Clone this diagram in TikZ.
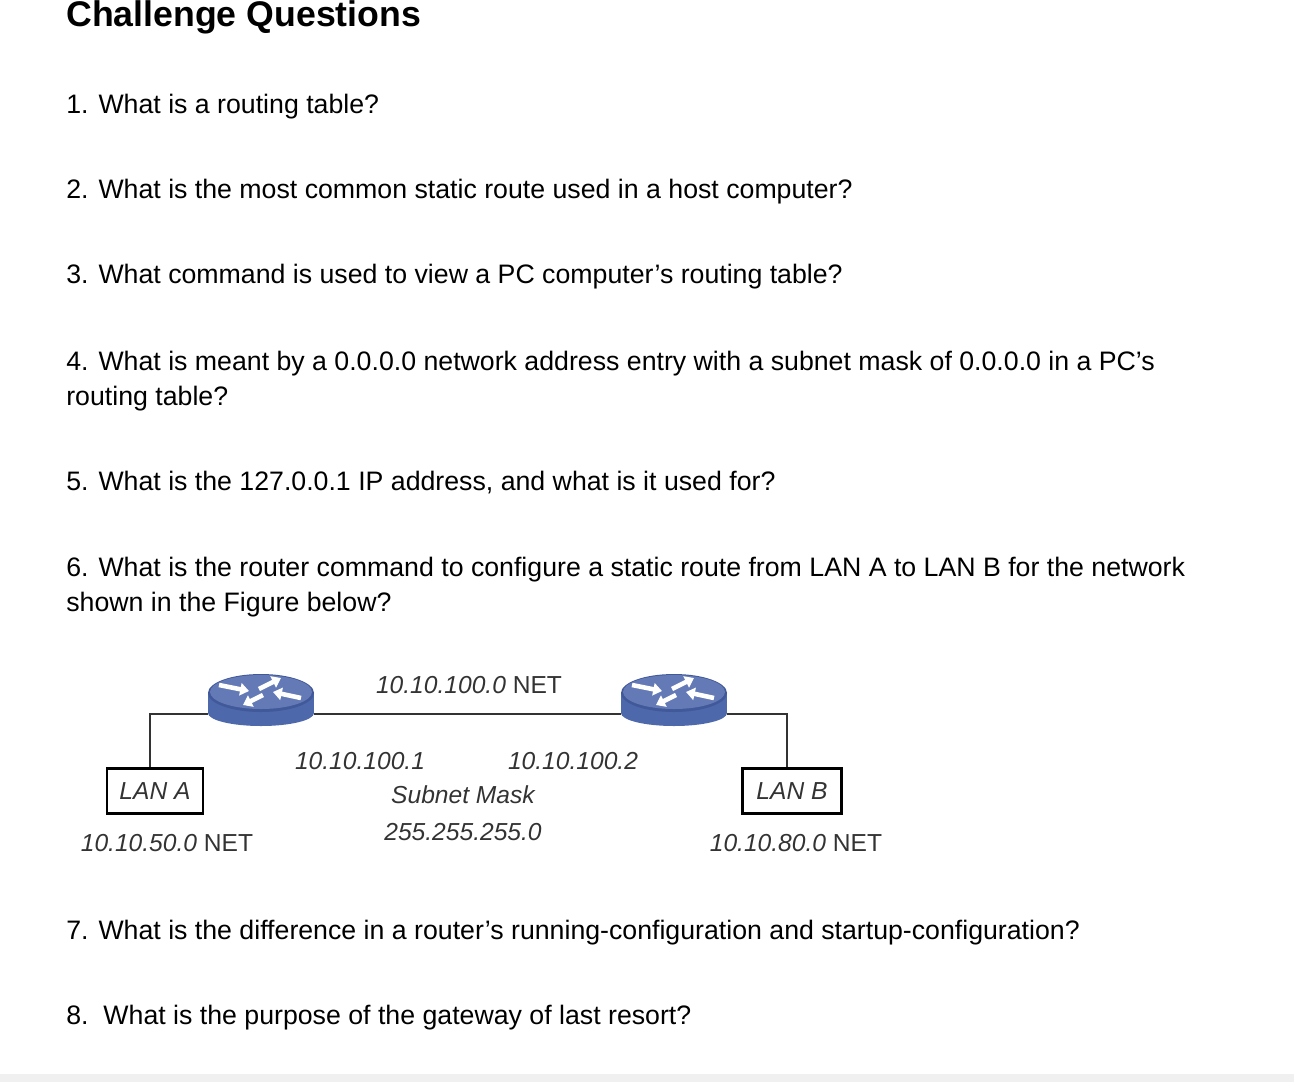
\documentclass[tikz,border=0pt]{standalone}
\usepackage{fontspec}
\setmainfont{Liberation Sans}
\usetikzlibrary{arrows.meta}
\definecolor{rblue}{RGB}{78,104,172}
\definecolor{rdark}{RGB}{60,82,145}
\tikzset{
  q/.style={anchor=west,font=\fontsize{15.2}{18}\selectfont,inner sep=0pt,align=left},
  lbl/.style={font=\fontsize{14}{17}\selectfont,text=black!80,inner sep=0pt},
  lanbox/.style={draw,line width=1.2pt,minimum width=1.92cm,minimum height=0.9cm,font=\fontsize{14}{17}\selectfont\itshape,text=black!80},
  wire/.style={line width=1.5pt,black!80},
  rarr/.style={white,line width=2.6pt,-{Triangle[length=5pt,width=7pt]}}
}
\newcommand{\router}[2]{%
  \fill[rblue] (#1-53,#2-7) rectangle (#1+53,#2+13);
  \fill[rblue] (#1,#2+13) ellipse[x radius=53,y radius=13];
  \fill[rdark!70!rblue] (#1,#2-7) ellipse[x radius=53,y radius=19];
  \fill[rblue!88!white] (#1,#2-8) ellipse[x radius=51,y radius=17];
  \draw[rarr] (#1-42,#2-15) -- (#1-12,#2-9);
  \draw[rarr] (#1+40,#2-2) -- (#1+12,#2-8);
  \draw[rarr] (#1-2,#2-11) -- (#1+20,#2-22);
  \draw[rarr] (#1+2,#2-5) -- (#1-18,#2+5);
}
\begin{document}
\begin{tikzpicture}[x=0.02cm,y=-0.02cm]
\useasboundingbox (0,0) rectangle (1294,1082);
\fill[black!6] (0,1074) rectangle (1294,1082);
\node[q,font=\fontsize{20.3}{24}\selectfont\bfseries] (t) at (66,17) {Challenge Questions};
\node[q] (q1) at (66,107) {1. What is a routing table?};
\node[q] (q2) at (66,192) {2. What is the most common static route used in a host computer?};
\node[q] (q3) at (66,277) {3. What command is used to view a PC computer’s routing table?};
\node[q,anchor=north west] (q4) at (66,351) {4. What is meant by a 0.0.0.0 network address entry with a subnet mask of 0.0.0.0 in a PC’s\\[2pt]routing table?};
\node[q] (q5) at (66,483) {5. What is the 127.0.0.1 IP address, and what is it used for?};
\node[q,anchor=north west] (q6) at (66,557) {6. What is the router command to configure a static route from LAN A to LAN B for the network\\[2pt]shown in the Figure below?};
\node[q] (q7) at (66,933) {7. What is the difference in a router’s running-configuration and startup-configuration?};
\node[q] (q8) at (66,1018) {8.\ \ What is the purpose of the gateway of last resort?};
% diagram
\coordinate (r1l) at (208,714); \coordinate (r1r) at (314,714);
\coordinate (r2l) at (621,714); \coordinate (r2r) at (727,714);
\node[lanbox] (lana) at (155,791) {LAN A};
\node[lanbox,minimum width=1.98cm] (lanb) at (792,791) {LAN B};
\draw[wire] (r1r) -- (r2l);
\draw[wire] (r1l) -| (lana.north -| 150,0);
\draw[wire] (r2r) -| (lanb.north -| 787,0);
\router{261}{700}
\router{674}{700}
\node[lbl] (n100) at (469,685) {\itshape 10.10.100.0\upshape\ NET};
\node[lbl] (a1) at (360,761) {\itshape 10.10.100.1};
\node[lbl] (a2) at (573,761) {\itshape 10.10.100.2};
\node[lbl] (sm) at (463,795) {\itshape Subnet Mask};
\node[lbl] (mk) at (463,832) {\itshape 255.255.255.0};
\node[lbl] (n50) at (167,843) {\itshape 10.10.50.0\upshape\ NET};
\node[lbl] (n80) at (796,843) {\itshape 10.10.80.0\upshape\ NET};
\end{tikzpicture}
\end{document}
